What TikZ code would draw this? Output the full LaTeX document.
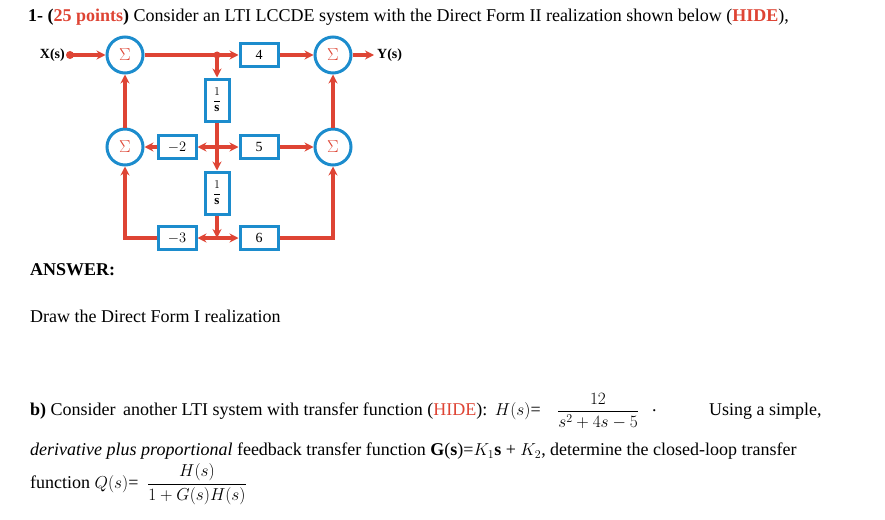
\documentclass[tikz,border=0pt]{standalone}
\usepackage{fontspec}
\setmainfont{Liberation Serif}
\usetikzlibrary{arrows.meta}
\definecolor{rd}{RGB}{222,68,52}
\definecolor{bl}{RGB}{28,140,205}
\begin{document}
\begin{tikzpicture}[x=1pt,y=-1pt,
  sumn/.style={circle,draw=bl,line width=3pt,fill=white,minimum size=36pt,inner sep=0pt,text=rd,font=\fontsize{16}{16}\selectfont},
  gbox/.style={draw=bl,line width=3pt,fill=white,minimum width=38pt,minimum height=23pt,inner sep=0pt,font=\fontsize{14}{14}\selectfont},
  ibox/.style={draw=bl,line width=3pt,fill=white,minimum width=24pt,minimum height=42pt,inner sep=0pt,font=\fontsize{13}{13}\selectfont\bfseries},
  sig/.style={draw=rd,line width=3.2pt,-{Stealth[length=9pt,width=9pt]}},
  wire/.style={draw=rd,line width=3.2pt},
  txt/.style={anchor=west,inner sep=0pt,font=\fontsize{18}{20}\selectfont}]
\useasboundingbox (0,0) rectangle (885,519);
% title
\node[txt] (title) at (28,17) {\textbf{1- (\textcolor{rd}{25 points})} Consider an LTI LCCDE system with the Direct Form II realization shown below (\textbf{\textcolor{rd}{HIDE}}),};
% diagram
\node[sumn] (s1) at (125,55) {$\Sigma$};
\node[sumn] (s2) at (333,55) {$\Sigma$};
\node[sumn] (s3) at (125,147) {$\Sigma$};
\node[sumn] (s4) at (333,147) {$\Sigma$};
\node[gbox] (g4) at (259,55) {4};
\node[gbox] (gm2) at (177,147) {$-2$};
\node[gbox] (g5) at (259,147) {5};
\node[gbox] (gm3) at (177,238) {$-3$};
\node[gbox] (g6) at (259,238) {6};
\node[ibox] (i1) at (217,100) {$\displaystyle\frac{1}{\mathbf{s}}$};
\node[ibox] (i2) at (217,193) {$\displaystyle\frac{1}{\mathbf{s}}$};
\coordinate (j1) at (217,55);
\coordinate (j2) at (217,147);
\coordinate (j3) at (217,238);
\coordinate (xin) at (70,55);
\coordinate (yout) at (374,55);
\node[anchor=east,inner sep=0pt,font=\fontsize{14}{14}\selectfont\bfseries] (xl) at (65,55) {X(s)};
\node[anchor=west,inner sep=0pt,font=\fontsize{14}{14}\selectfont\bfseries] (yl) at (377,55) {Y(s)};
\fill[rd] (xin) circle (4pt);
\path[sig] (xin) -- (s1);
\path[wire] (s1) -- (j1);
\fill[rd] (j1) circle (3.5pt);
\path[sig] (j1) -- (g4);
\path[sig] (j1) -- (i1);
\path[sig] (g4) -- (s2);
\path[sig] (s2) -- (yout);
\path[sig] (i1) -- (i2);
\path[sig] (j2) -- (gm2);
\path[sig] (j2) -- (g5);
\path[sig] (gm2) -- (s3);
\path[sig] (s3) -- (s1);
\path[sig] (g5) -- (s4);
\path[sig] (s4) -- (s2);
\path[sig] (i2) -- (j3);
\path[sig] (j3) -- (gm3);
\path[sig] (j3) -- (g6);
\path[sig] (gm3) -| (s3);
\path[sig] (g6) -| (s4);
% texts
\node[txt] (ans) at (30,270) {\textbf{ANSWER:}};
\node[txt] (draw) at (30,316) {Draw the Direct Form I realization};
\node[txt] (b1) at (30,411) {\textbf{b)} Consider\, another LTI system with transfer function (\textcolor{rd}{HIDE}):\, $H(s)$=};
\node[inner sep=0pt,font=\fontsize{17}{19}\selectfont] (hf) at (598,411) {$\displaystyle\frac{12}{s^2+4s-5}$};
\node[txt] (dot) at (652,411) {.};
\node[txt] (use) at (709,411) {Using a simple,};
\node[txt] (b2) at (30,451) {\textit{derivative plus proportional} feedback transfer function \textbf{G}(\textbf{s})=$K_1$\textbf{s} + $K_2$, determine the closed-loop transfer};
\node[txt] (b3) at (30,484) {function $Q(s)$=};
\node[inner sep=0pt,font=\fontsize{17}{19}\selectfont] (qf) at (197,484) {$\displaystyle\frac{H(s)}{1+G(s)H(s)}$};
\end{tikzpicture}
\end{document}
